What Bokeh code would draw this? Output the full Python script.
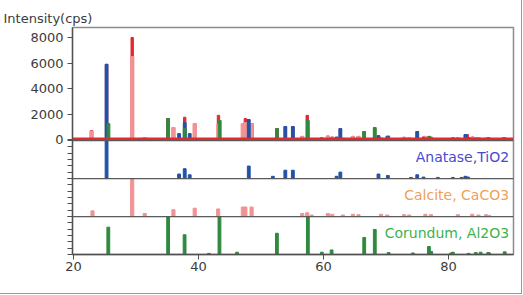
from bokeh.plotting import figure
from bokeh.models import Range1d, FixedTicker, Span, Title, Label
from bokeh.embed import file_html
from bokeh.resources import INLINE

# ---- axes -----------------------------------------------------------------
x_ticks = [20, 40, 60, 80]
y_ticks = [0, 2000, 4000, 6000, 8000]

# ---- measured profile: peak tops (2theta in deg, intensity in cps) ----------
meas_pos = [22.9, 25.3, 29.4, 31.4, 35.1, 36.0, 37.8, 39.4, 43.2, 47.5, 48.0,
            48.6, 52.6, 53.9, 55.1, 56.6, 57.4, 60.7, 61.4, 62.7, 64.7, 65.6,
            66.5, 68.2, 68.8, 70.4, 72.9, 75.0, 76.1, 77.0, 81.5, 83.0, 83.9,
            84.8, 86.4, 88.9]
meas_cps = [700, 5900, 8000, 150, 1650, 940, 1750, 1250, 1900, 1650, 1570,
            1250, 860, 1020, 1020, 250, 1900, 280, 200, 860, 250, 250,
            630, 940, 300, 280, 180, 630, 250, 250, 150, 390, 200,
            150, 150, 150]
meas_background = 70

# ---- phase contributions inside the measured pattern (cps) ------------------
cal_fit_pos = [22.9, 29.4, 31.4, 36.0, 39.4, 43.2, 47.1, 47.5, 48.5, 56.6,
               57.4, 60.7, 61.4, 63.1, 64.7, 65.6, 69.2, 70.2, 72.9, 73.7,
               76.3, 77.2, 81.5, 83.8, 84.8, 86.0]
cal_fit_cps = [650, 6500, 150, 940, 1250, 1200, 1250, 1330, 1250, 250,
               900, 280, 200, 120, 250, 250, 150, 280, 180, 150,
               250, 200, 150, 200, 150, 130]

ana_fit_pos = [25.3, 36.9, 37.8, 38.6, 48.05, 53.9, 55.1, 62.1, 62.7, 68.8,
               70.3, 75.0, 76.0, 82.7, 83.2]
ana_fit_cps = [5900, 470, 1330, 470, 1570, 1020, 1020, 200, 860, 300,
               250, 630, 150, 390, 150]

cor_fit_pos = [25.6, 35.15, 37.8, 43.4, 52.55, 57.5, 59.7, 61.3, 66.5, 68.2,
               70.4, 76.9, 77.2, 80.7, 84.4, 86.4, 88.9]
cor_fit_cps = [1250, 1650, 860, 1500, 860, 1500, 150, 120, 630, 940,
               120, 250, 150, 150, 120, 150, 150]

# ---- reference stick patterns (relative intensity, %) ----------------------
ana_ref_pos = [25.3, 36.9, 37.8, 38.6, 48.05, 51.9, 53.9, 55.1, 62.1, 62.7,
               68.8, 70.3, 74.0, 75.0, 76.0, 78.3, 80.7, 82.1, 82.7, 83.1]
ana_ref_int = [100, 12, 26, 10, 33, 6, 22, 22, 6, 17,
               12, 8, 3, 10, 4, 3, 3, 3, 6, 4]

cal_ref_pos = [23.05, 29.4, 31.4, 36.0, 39.4, 43.15, 47.1, 47.5, 48.5, 56.6,
               57.4, 58.1, 60.7, 61.4, 63.1, 64.7, 65.6, 69.2, 70.2, 72.9,
               73.7, 76.3, 77.2, 81.5, 83.8, 84.8, 86.0, 86.5]
cal_ref_int = [15, 100, 8, 18, 22, 20, 25, 25, 25, 8,
               10, 4, 8, 6, 4, 6, 5, 6, 4, 5,
               4, 6, 5, 5, 6, 4, 5, 3]

cor_ref_pos = [25.58, 35.15, 37.78, 41.68, 43.36, 46.18, 52.55, 57.5, 59.74,
               61.3, 66.52, 68.21, 70.42, 74.3, 76.87, 77.23, 80.42, 80.7,
               83.21, 84.36, 85.14, 86.36, 86.5, 88.99]
cor_ref_int = [72, 100, 52, 3, 100, 6, 56, 100, 6,
               12, 45, 66, 5, 4, 21, 8, 4, 6,
               3, 5, 6, 5, 4, 7]

phase_names = ["Anatase,TiO2", "Calcite, CaCO3", "Corundum, Al2O3"]
x_title = "2θ (deg)"
y_title = "Intensity(cps)"

# ---- colours ---------------------------------------------------------------
RED = "#e02a32"
PINK = "#f29393"
BLUE = "#2152a8"
GREEN = "#2f8a3f"
LABEL_COLORS = ["#4a4ad0", "#f0a058", "#3cb44b"]
TEXT = "#3c3c3c"
FONT = "DejaVu Sans"

# ---- vertical layout: main pattern on top, three stick panels below --------
Y_TOP = 8785
MAIN_BOTTOM = -80
PANEL_SPAN = 2975          # main-axis units taken by one stick panel
N_PANELS = 3
Y_BOTTOM = MAIN_BOTTOM - N_PANELS * PANEL_SPAN
PX = 78.43                 # cps per pixel on the main axis

p = figure(width=522, height=294,
           x_range=Range1d(19.85, 90.4), y_range=Range1d(Y_BOTTOM, Y_TOP),
           output_backend="svg", toolbar_location=None,
           min_border_left=72, min_border_right=9,
           min_border_top=27, min_border_bottom=40)
p.background_fill_color = "white"
p.border_fill_color = "white"
p.styles = {"border-right": "1px solid #9a9a9a",
            "border-bottom": "1px solid #9a9a9a"}
p.xgrid.visible = False
p.ygrid.visible = False
p.outline_line_color = "#8c8c8c"
p.outline_line_width = 1.5

# each stick panel gets its own 0-100 % range
panel_names = ["ana", "cal", "cor"]
minor = []
for k, name in enumerate(panel_names):
    base = MAIN_BOTTOM - (k + 1) * PANEL_SPAN
    scale = PANEL_SPAN / 100.0
    p.extra_y_ranges[name] = Range1d((Y_BOTTOM - base) / scale,
                                     (Y_TOP - base) / scale)
    top = MAIN_BOTTOM - k * PANEL_SPAN
    minor += [top - j * PANEL_SPAN / 6.0 for j in range(7)]

# ---- measured pattern and fitted phase bars --------------------------------
p.vbar(x=meas_pos, top=meas_cps, bottom=0, width=0.38, color=RED)
p.vbar(x=cal_fit_pos, top=cal_fit_cps, bottom=0, width=0.55, color=PINK)
p.vbar(x=ana_fit_pos, top=ana_fit_cps, bottom=0, width=0.45, color=BLUE)
p.vbar(x=cor_fit_pos, top=cor_fit_cps, bottom=0, width=0.45, color=GREEN)
p.line(x=[19.85, 90.4], y=[meas_background, meas_background],
       line_color=RED, line_width=2.5)

# ---- reference sticks ------------------------------------------------------
p.vbar(x=ana_ref_pos, top=ana_ref_int, bottom=0, width=0.45, color=BLUE,
       y_range_name="ana")
p.vbar(x=cal_ref_pos, top=cal_ref_int, bottom=0, width=0.5, color=PINK,
       y_range_name="cal")
p.vbar(x=cor_ref_pos, top=cor_ref_int, bottom=0, width=0.45, color=GREEN,
       y_range_name="cor")

for name, text, col in zip(panel_names, phase_names, LABEL_COLORS):
    p.add_layout(Label(x=89.7, y=57, y_range_name=name, text=text,
                       text_align="right", text_baseline="middle",
                       text_font=FONT, text_font_size="14px",
                       text_color=col))

for k in range(N_PANELS):
    p.add_layout(Span(location=MAIN_BOTTOM - k * PANEL_SPAN,
                      dimension="width", line_color="#5a5a5a",
                      line_width=1.3))

# ---- axes styling ----------------------------------------------------------
p.yaxis.ticker = FixedTicker(ticks=y_ticks, minor_ticks=minor)
p.xaxis.ticker = FixedTicker(ticks=x_ticks, minor_ticks=[])
for ax in (p.xaxis, p.yaxis):
    ax.axis_line_color = "#505050"
    ax.axis_line_width = 1.3
    ax.major_tick_line_color = "#505050"
    ax.minor_tick_line_color = "#505050"
    ax.major_tick_in = 0
    ax.major_tick_out = 5
    ax.minor_tick_in = 0
    ax.minor_tick_out = 5
    ax.major_label_text_font = FONT
    ax.major_label_text_font_size = "13px"
    ax.major_label_text_color = TEXT
p.yaxis.major_label_standoff = 4
p.xaxis.major_label_standoff = 2

# x-axis title sits a little left of the frame centre, under the 50-deg mark
p.add_layout(Label(x=51.8, y=Y_BOTTOM - 29 * PX, text=x_title,
                   text_align="center", text_baseline="middle",
                   text_font=FONT, text_font_size="13px",
                   text_color=TEXT))

p.add_layout(Title(text=y_title, align="left", offset=-69,
                   text_font=FONT, text_font_size="13px",
                   text_font_style="normal", text_color=TEXT,
                   standoff=4), "above")

open("out.html", "w").write(file_html(p, INLINE))
